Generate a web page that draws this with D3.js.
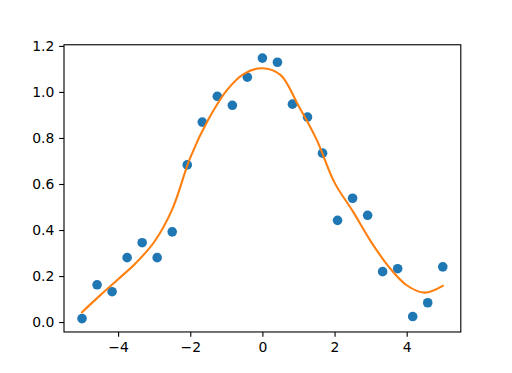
<!DOCTYPE html>
<html>
<head>
<meta charset="utf-8">
<script src="https://cdn.jsdelivr.net/npm/d3@7"></script>
<style>
  body { margin: 0; background: #fff; }
  svg { display: block; font-family: "DejaVu Sans", sans-serif; }
</style>
</head>
<body>
<div id="chart"></div>
<script>
// scatter samples
const pointX = [-5, -4.583, -4.167, -3.75, -3.333, -2.917, -2.5, -2.083, -1.667, -1.25, -0.833, -0.417,
  0, 0.417, 0.833, 1.25, 1.667, 2.083, 2.5, 2.917, 3.333, 3.75, 4.167, 4.583, 5];
const pointY = [0.015, 0.162, 0.132, 0.28, 0.345, 0.28, 0.392, 0.683, 0.869, 0.981, 0.942, 1.064,
  1.147, 1.129, 0.947, 0.891, 0.734, 0.442, 0.538, 0.464, 0.219, 0.232, 0.024, 0.084, 0.24];

// fitted curve
const curveX = [-5, -4.5, -4, -3.5, -3, -2.5, -2, -1.5, -1, -0.5, 0, 0.5, 1, 1.5, 2, 2.5, 3, 3.5, 4, 4.5, 5];
const curveY = [0.043, 0.116, 0.186, 0.258, 0.348, 0.49, 0.715, 0.88, 1.005, 1.08, 1.103, 1.074,
  0.94, 0.794, 0.606, 0.483, 0.352, 0.241, 0.16, 0.128, 0.157];

const xTicks = [-4, -2, 0, 2, 4];
const yTicks = [0, 0.2, 0.4, 0.6, 0.8, 1.0, 1.2];

const W = 512, H = 373;
const margin = { top: 44.76, right: 51.2, bottom: 41.03, left: 64 };
const width = W - margin.left - margin.right;
const height = H - margin.top - margin.bottom;

const svg = d3.select("#chart").append("svg")
  .attr("width", W).attr("height", H);

const g = svg.append("g")
  .attr("transform", `translate(${margin.left},${margin.top})`);

const x = d3.scaleLinear().domain([-5.5, 5.5]).range([0, width]);
const y = d3.scaleLinear().domain([-0.043, 1.205]).range([height, 0]);

// points
const pts = pointX.map((v, i) => ({ x: v, y: pointY[i] }));
g.selectAll("circle.pt")
  .data(pts)
  .enter()
  .append("circle")
  .attr("class", "pt")
  .attr("cx", (d) => x(d.x))
  .attr("cy", (d) => y(d.y))
  .attr("r", 4.8)
  .attr("fill", "#1f77b4");

// curve
const line = d3.line()
  .x((d) => x(d.x))
  .y((d) => y(d.y))
  .curve(d3.curveCatmullRom.alpha(0.5));

g.append("path")
  .datum(curveX.map((v, i) => ({ x: v, y: curveY[i] })))
  .attr("fill", "none")
  .attr("stroke", "#ff7f0e")
  .attr("stroke-width", 2.08)
  .attr("stroke-linecap", "square")
  .attr("d", line);

// axes
const xAxis = g.append("g")
  .attr("transform", `translate(0,${height})`)
  .call(d3.axisBottom(x).tickValues(xTicks).tickSize(4.86).tickPadding(4.86).tickFormat(d3.format("d")));

const yAxis = g.append("g")
  .call(d3.axisLeft(y).tickValues(yTicks).tickSize(4.86).tickPadding(4.86).tickFormat(d3.format(".1f")));

[xAxis, yAxis].forEach((a) => {
  a.select(".domain").remove();
  a.selectAll("line").attr("stroke", "#000").attr("stroke-width", 1.11);
  a.selectAll("text").attr("fill", "#000").style("font-size", "13.9px")
    .style("font-family", "'DejaVu Sans', sans-serif");
});

// frame
g.append("rect")
  .attr("width", width)
  .attr("height", height)
  .attr("fill", "none")
  .attr("stroke", "#000")
  .attr("stroke-width", 1.11);
</script>
</body>
</html>
